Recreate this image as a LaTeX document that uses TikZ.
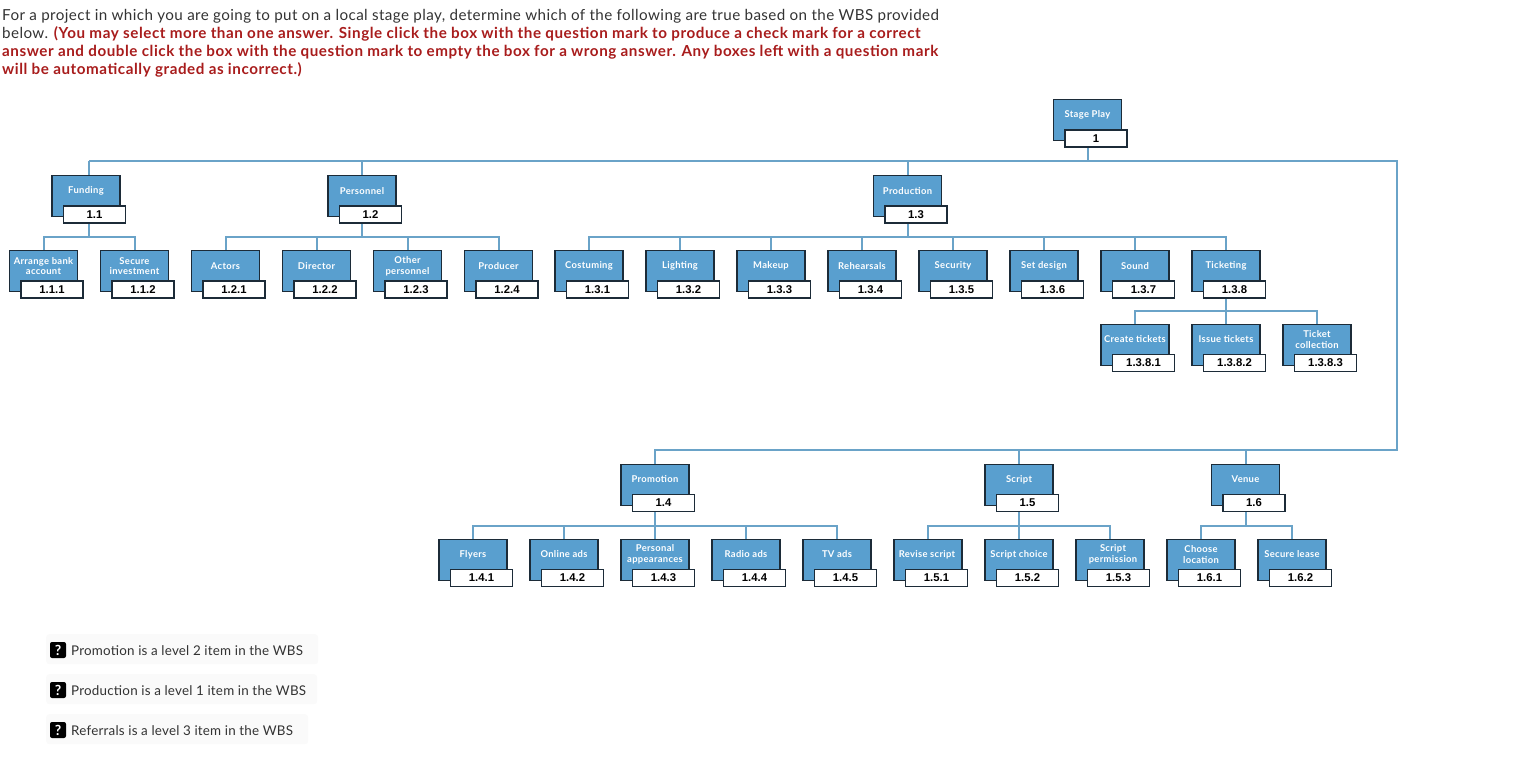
\documentclass[tikz,border=0pt]{standalone}
\usepackage{fontspec}
\setmainfont{Lato}
\newfontfamily\codefont{Liberation Sans}
\usetikzlibrary{backgrounds}
\definecolor{wbsblue}{HTML}{599FCF}
\definecolor{wbsline}{HTML}{6AA3C8}
\definecolor{wbsedge}{HTML}{1C2B38}
\definecolor{wbsred}{HTML}{A81C1C}
\definecolor{wbstext}{HTML}{333333}
\definecolor{optbg}{HTML}{FAFAFA}
\newcommand{\redpart}[1]{{\color{wbsred}\bfseries\addfontfeature{LetterSpace=3.65}#1}}
\tikzset{
  x=1pt,y=-1pt,
  blueBox/.style={draw=wbsedge,fill=wbsblue,line width=1.4pt,minimum width=68pt,minimum height=41pt,inner sep=0pt},
  codeBox/.style={draw=wbsedge,fill=white,line width=1.3pt,minimum width=62pt,minimum height=17pt,inner sep=0pt,font=\codefont\bfseries\fontsize{11.3}{13}\selectfont,text=black},
  boxLabel/.style={text=white,align=center,inner sep=0pt,font=\bfseries\fontsize{9.4}{10.6}\selectfont\addfontfeature{LetterSpace=3.5}},
  wire/.style={draw=wbsline,line width=2pt},
  optBack/.style={fill=optbg,draw=none,rounded corners=3pt,inner sep=0pt,anchor=north west,minimum height=30pt},
  optMark/.style={fill=black,rounded corners=2pt,minimum size=16pt,inner sep=0pt,text=white,font=\bfseries\fontsize{14}{14}\selectfont},
  optText/.style={anchor=west,inner sep=0pt,text=wbstext,font=\fontsize{13.4}{15}\selectfont\addfontfeature{LetterSpace=1.6}},
}
% [label x-shift], name, centre x, top y, label, code
\newcommand{\wbsitem}[6][0]{%
  \node[blueBox,anchor=north] (#2) at (#3,#4) {};
  \node[boxLabel] (#2t) at ([xshift=#1pt,yshift=-16pt]#2.north) {#5};
  \node[codeBox] (#2c) at ([xshift=8.5pt,yshift=-39.5pt]#2.north) {\raisebox{-1.3pt}{#6}};
}
\begin{document}
\begin{tikzpicture}
\useasboundingbox (0,0) rectangle (1514,757);
\node[anchor=north west,inner sep=0pt,align=left,text=wbstext,font=\fontsize{15.2}{18}\selectfont] (intro) at (2,9.5) {%
\addfontfeature{LetterSpace=2.7}For a project in which you are going to put on a local stage play, determine which of the following are true based on the WBS provided\\
\addfontfeature{LetterSpace=2.7}below. \redpart{(You may select more than one answer. Single click the box with the question mark to produce a check mark for a correct}\\
\redpart{answer and double click the box with the question mark to empty the box for a wrong answer. Any boxes left with a question mark}\\
\redpart{will be automatically graded as incorrect.)}};

\wbsitem{s}{1087.5}{99}{Stage Play}{1}
\wbsitem{a}{86}{175}{Funding}{1.1}
\wbsitem{b}{362}{175}{Personnel}{1.2}
\wbsitem{c}{907.5}{175}{Production}{1.3}
\wbsitem{aa}{43.5}{250}{Arrange bank\\account}{1.1.1}
\wbsitem{ab}{134.5}{250}{Secure\\investment}{1.1.2}
\wbsitem{ba}{225.5}{250}{Actors}{1.2.1}
\wbsitem{bb}{316.5}{250}{Director}{1.2.2}
\wbsitem{bc}{407.5}{250}{Other\\personnel}{1.2.3}
\wbsitem{bd}{498.5}{250}{Producer}{1.2.4}
\wbsitem{ca}{589}{250}{Costuming}{1.3.1}
\wbsitem{cb}{680}{250}{Lighting}{1.3.2}
\wbsitem{cc}{771}{250}{Makeup}{1.3.3}
\wbsitem{cd}{862}{250}{Rehearsals}{1.3.4}
\wbsitem{ce}{953}{250}{Security}{1.3.5}
\wbsitem{cf}{1044}{250}{Set design}{1.3.6}
\wbsitem{cg}{1135}{250}{Sound}{1.3.7}
\wbsitem{ch}{1226}{250}{Ticketing}{1.3.8}
\wbsitem{cha}{1135}{323.5}{Create tickets}{1.3.8.1}
\wbsitem{chb}{1226}{323.5}{Issue tickets}{1.3.8.2}
\wbsitem{chc}{1317}{323.5}{Ticket\\collection}{1.3.8.3}
\wbsitem{d}{655}{463.5}{Promotion}{1.4}
\wbsitem{e}{1019}{463.5}{Script}{1.5}
\wbsitem{f}{1245.5}{463.5}{Venue}{1.6}
\wbsitem{da}{473}{538.5}{Flyers}{1.4.1}
\wbsitem{db}{564}{538.5}{Online ads}{1.4.2}
\wbsitem{dc}{655}{538.5}{Personal\\appearances}{1.4.3}
\wbsitem{dd}{746}{538.5}{Radio ads}{1.4.4}
\wbsitem{de}{837}{538.5}{TV ads}{1.4.5}
\wbsitem[-1]{ea}{928}{538.5}{Revise script}{1.5.1}
\wbsitem{eb}{1019}{538.5}{Script choice}{1.5.2}
\wbsitem[3]{ec}{1110}{538.5}{Script\\permission}{1.5.3}
\wbsitem{fa}{1201}{538.5}{Choose\\location}{1.6.1}
\wbsitem{fb}{1292}{538.5}{Secure lease}{1.6.2}

\coordinate (busTop) at (0,161);
\coordinate (busLow) at (0,450);
\coordinate (busRight) at (1396.5,0);
\coordinate (busA) at (0,237);
\coordinate (busT) at (0,311);
\coordinate (busD) at (0,525.5);
\coordinate (aStem) at ([xshift=3pt]a.north);

\begin{scope}[on background layer]
  % level 1
  \draw[wire] (s.south) -- (s.south |- busTop);
  \draw[wire] (aStem |- busTop) -- (busRight |- busTop) -- (busRight |- busLow) -- (d.north |- busLow) -- (d.north);
  \draw[wire] (aStem |- busTop) -- (aStem);
  \foreach \n in {b,c} \draw[wire] (\n.north |- busTop) -- (\n.north);
  \draw[wire] (e.north |- busLow) -- (e.north);
  \draw[wire] (f.north |- busLow) -- (f.north);
  % Funding
  \draw[wire] (aStem) -- (aStem |- busA);
  \draw[wire] (aa.north) |- (ab.north |- busA) -- (ab.north);
  % Personnel
  \draw[wire] (b.south) -- (b.south |- busA);
  \draw[wire] (ba.north) |- (bd.north |- busA) -- (bd.north);
  \foreach \n in {bb,bc} \draw[wire] (\n.north |- busA) -- (\n.north);
  % Production
  \draw[wire] (c.south) -- (c.south |- busA);
  \draw[wire] (ca.north) |- (ch.north |- busA) -- (ch.north);
  \foreach \n in {cb,cc,cd,ce,cf,cg} \draw[wire] (\n.north |- busA) -- (\n.north);
  % Ticketing
  \draw[wire] (ch.south) -- (ch.south |- busT);
  \draw[wire] (cha.north) |- (chc.north |- busT) -- (chc.north);
  \draw[wire] (chb.north |- busT) -- (chb.north);
  % Promotion
  \draw[wire] (d.south) -- (d.south |- busD);
  \draw[wire] (da.north) |- (de.north |- busD) -- (de.north);
  \foreach \n in {db,dc,dd} \draw[wire] (\n.north |- busD) -- (\n.north);
  % Script
  \draw[wire] (e.south) -- (e.south |- busD);
  \draw[wire] (ea.north) |- (ec.north |- busD) -- (ec.north);
  \draw[wire] (eb.north |- busD) -- (eb.north);
  % Venue
  \draw[wire] (f.south) -- (f.south |- busD);
  \draw[wire] (fa.north) |- (fb.north |- busD) -- (fb.north);
\end{scope}

\node[optBack,minimum width=272pt] (o1) at (46,634) {};
\node[optBack,minimum width=271pt] (o2) at (46,674) {};
\node[optBack,minimum width=262pt] (o3) at (46,714) {};
\node[optMark] (m1) at (58,650) {?};
\node[optMark] (m2) at (58,690) {?};
\node[optMark] (m3) at (58,730) {?};
\node[optText] (t1) at (71,650.5) {Promotion is a level 2 item in the WBS};
\node[optText] (t2) at (71,690.5) {Production is a level 1 item in the WBS};
\node[optText] (t3) at (71,730.5) {Referrals is a level 3 item in the WBS};
\end{tikzpicture}
\end{document}
